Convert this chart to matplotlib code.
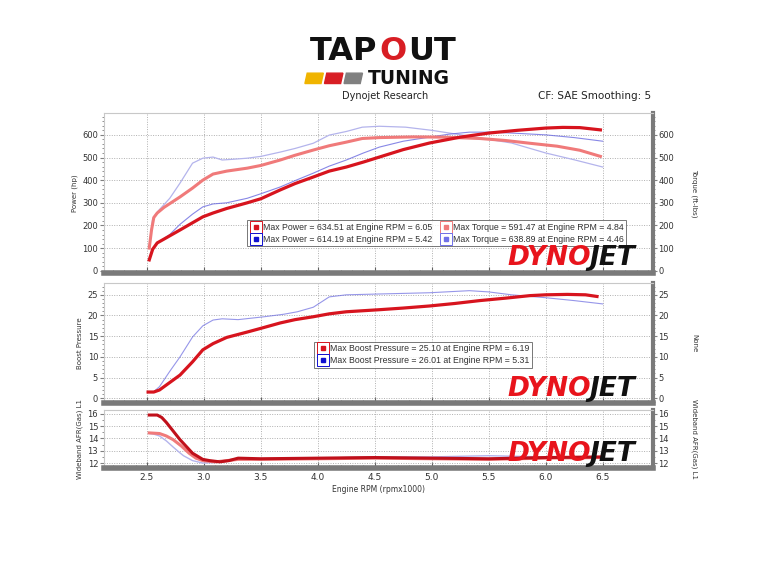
import matplotlib
matplotlib.use("Agg")
import matplotlib.pyplot as plt
from matplotlib.lines import Line2D
from matplotlib.patches import Polygon
from matplotlib.ticker import MultipleLocator

# данные (rpm x1000)
rpm_p1 = [2.52, 2.55, 2.59, 2.65, 2.79, 2.99, 3.08, 3.2, 3.38, 3.5, 3.67, 3.8, 3.96, 4.1, 4.25,
          4.4, 4.54, 4.75, 4.98, 5.25, 5.5, 5.75, 6.0, 6.15, 6.3, 6.48]
power_1 = [48, 95, 123, 140, 180, 238, 255, 275, 300, 318, 357, 385, 414, 440, 458,
           480, 502, 535, 564, 590, 608, 620, 630, 633, 632, 622]

rpm_t1 = [2.52, 2.54, 2.56, 2.59, 2.65, 2.79, 2.9, 2.99, 3.08, 3.2, 3.38, 3.5, 3.67, 3.8, 3.96,
          4.1, 4.25, 4.39, 4.54, 4.84, 5.1, 5.42, 5.65, 5.86, 6.1, 6.3, 6.48]
torque_1 = [100, 180, 235, 255, 280, 326, 365, 400, 427, 440, 453, 465, 489, 510, 533,
            552, 568, 584, 588, 591, 590, 584, 575, 563, 550, 532, 505]

rpm_p2 = [2.52, 2.56, 2.6, 2.7, 2.79, 2.9, 2.99, 3.08, 3.2, 3.38, 3.5, 3.67, 3.8, 3.96, 4.1,
          4.25, 4.4, 4.54, 4.75, 4.98, 5.15, 5.33, 5.5, 5.7, 6.0, 6.25, 6.5]
power_2 = [55, 105, 125, 160, 205, 250, 282, 295, 300, 320, 340, 370, 398, 431, 462,
           489, 520, 546, 572, 590, 603, 612, 612, 608, 600, 588, 572]

rpm_t2 = [2.52, 2.55, 2.6, 2.7, 2.79, 2.9, 2.99, 3.08, 3.16, 3.25, 3.38, 3.5, 3.67, 3.8, 3.96,
          4.1, 4.25, 4.39, 4.54, 4.77, 5.0, 5.27, 5.5, 5.7, 6.0, 6.25, 6.5]
torque_2 = [110, 230, 265, 320, 387, 475, 497, 502, 489, 492, 497, 505, 524, 540, 563,
            599, 615, 634, 638, 634, 620, 599, 580, 564, 520, 490, 458]

rpm_b1 = [2.51, 2.56, 2.61, 2.7, 2.79, 2.9, 2.99, 3.08, 3.2, 3.38, 3.5, 3.67, 3.8, 3.96, 4.1,
          4.25, 4.54, 4.75, 4.98, 5.2, 5.42, 5.65, 5.86, 6.0, 6.19, 6.35, 6.45]
boost_1 = [1.5, 1.5, 2.0, 3.8, 5.6, 8.8, 11.7, 13.2, 14.7, 16.0, 16.9, 18.2, 19.0, 19.7, 20.4,
           20.9, 21.4, 21.8, 22.3, 22.9, 23.6, 24.2, 24.8, 25.0, 25.1, 25.0, 24.6]

rpm_b2 = [2.51, 2.56, 2.61, 2.7, 2.79, 2.9, 2.99, 3.08, 3.16, 3.3, 3.53, 3.7, 3.82, 3.96, 4.1,
          4.25, 4.54, 4.98, 5.33, 5.5, 5.7, 6.0, 6.25, 6.5]
boost_2 = [1.5, 1.6, 2.8, 6.5, 10.0, 14.8, 17.5, 18.9, 19.2, 19.0, 19.7, 20.3, 20.9, 22.0, 24.5,
           25.0, 25.2, 25.5, 26.0, 25.7, 25.0, 24.3, 23.6, 22.8]

rpm_a1 = [2.52, 2.59, 2.63, 2.67, 2.73, 2.79, 2.85, 2.9, 2.99, 3.05, 3.14, 3.22, 3.3, 3.5, 4.0,
          4.5, 5.0, 5.5, 6.0, 6.5]
afr_1 = [15.9, 15.9, 15.7, 15.3, 14.6, 13.9, 13.3, 12.8, 12.3, 12.2, 12.1, 12.2, 12.4, 12.35, 12.4,
         12.45, 12.4, 12.35, 12.45, 12.5]

rpm_a2 = [2.52, 2.61, 2.67, 2.73, 2.8, 2.87, 2.93, 2.99, 3.1, 3.2, 3.3, 3.5, 4.0, 4.5, 5.0,
          5.5, 6.0, 6.5]
afr_2 = [14.45, 14.4, 14.2, 13.9, 13.4, 12.8, 12.4, 12.2, 12.1, 12.2, 12.3, 12.3, 12.35, 12.4, 12.35,
         12.3, 12.4, 12.45]

rpm_a3 = [2.52, 2.56, 2.61, 2.67, 2.73, 2.78, 2.82, 2.9, 2.99, 3.1, 3.3, 3.5, 4.0, 4.5, 5.0,
          5.5, 6.0, 6.5]
afr_3 = [14.4, 14.35, 14.2, 13.8, 13.3, 12.9, 12.6, 12.2, 12.0, 12.05, 12.3, 12.3, 12.4, 12.5, 12.5,
         12.6, 12.5, 12.4]

power_labels = ["Max Power = 634.51 at Engine RPM = 6.05",
                "Max Power = 614.19 at Engine RPM = 5.42",
                "Max Torque = 591.47 at Engine RPM = 4.84",
                "Max Torque = 638.89 at Engine RPM = 4.46"]
boost_labels = ["Max Boost Pressure = 25.10 at Engine RPM = 6.19",
                "Max Boost Pressure = 26.01 at Engine RPM = 5.31"]
x_ticks = [2.5, 3.0, 3.5, 4.0, 4.5, 5.0, 5.5, 6.0, 6.5]

RED = "#d7141e"
SALMON = "#f07a7a"
BLUE = "#6a6ae0"
LAV = "#b4b4ec"
GRID = "#b0b0b0"
BAR = "#7a7a7a"

plt.rcParams['font.family'] = ['DejaVu Sans']

fig = plt.figure(figsize=(7.68, 5.76), dpi=100)


def style_axis(ax, ylim, ymajor, yminor, left_label, right_label, show_x=False):
    ax.set_xlim(2.12, 6.94)
    ax.set_ylim(*ylim)
    ax.set_xticks(x_ticks)
    ax.xaxis.set_minor_locator(MultipleLocator(0.1))
    ax.yaxis.set_major_locator(MultipleLocator(ymajor))
    ax.yaxis.set_minor_locator(MultipleLocator(yminor))
    ax.grid(True, which='major', color=GRID, linestyle=(0, (1, 1.5)), linewidth=0.7)
    for s in ('left', 'top'):
        ax.spines[s].set_color('#c8c8c8')
        ax.spines[s].set_linewidth(0.8)
    ax.spines['bottom'].set_color(BAR)
    ax.spines['bottom'].set_linewidth(4)
    ax.spines['right'].set_color(BAR)
    ax.spines['right'].set_linewidth(3)
    ax.tick_params(axis='y', which='both', direction='out', colors='#808080',
                   labelcolor='#333333', labelsize=6, length=3, pad=1,
                   right=True, labelright=True)
    ax.tick_params(axis='y', which='minor', length=1.5)
    ax.tick_params(axis='x', which='both', direction='in', colors='#606060',
                   labelcolor='#333333', labelsize=6.5, length=4, labelbottom=show_x)
    ax.tick_params(axis='x', which='minor', length=2.5)
    ax.set_ylabel(left_label, fontsize=5, color='#333333', labelpad=3)
    ax.text(1.075, 0.5, right_label, transform=ax.transAxes, rotation=-90,
            fontsize=5, color='#333333', ha='center', va='center')
    # логотип dynojet
    ax.text(0.888, 0.012, "DYNO", transform=ax.transAxes, ha='right', va='bottom',
            color='#e8141c', fontsize=19, fontweight='heavy', fontstyle='italic', zorder=10)
    ax.text(0.884, 0.012, "JET", transform=ax.transAxes, ha='left', va='bottom',
            color='#111111', fontsize=19, fontweight='heavy', fontstyle='italic', zorder=10)


def legend_handle(color):
    outer = Line2D([], [], linestyle='none', marker='s', markersize=8,
                   markerfacecolor='white', markeredgecolor=color, markeredgewidth=0.7)
    inner = Line2D([], [], linestyle='none', marker='s', markersize=3.5,
                   markerfacecolor=color, markeredgecolor=color)
    return (outer, inner)


def make_legend(ax, handles, labels, anchor, ncol):
    leg = ax.legend(handles, labels, ncol=ncol, loc='lower left', bbox_to_anchor=anchor,
                    prop={'family': 'Liberation Sans', 'size': 6.3},
                    frameon=True, fancybox=False, edgecolor='#555555', borderpad=0.3,
                    labelspacing=0.3, handletextpad=0.1, columnspacing=0.9,
                    handlelength=1.4)
    leg.get_frame().set_linewidth(0.7)
    for t in leg.get_texts():
        t.set_color('#333333')
    return leg


# ---- верхняя панель: мощность / момент ----
ax1 = fig.add_axes([0.135, 0.526, 0.715, 0.278])
ax1.plot(rpm_t2, torque_2, color=LAV, lw=0.9)
ax1.plot(rpm_p2, power_2, color=BLUE, lw=0.8, alpha=0.8)
ax1.plot(rpm_t1, torque_1, color=SALMON, lw=2.2)
ax1.plot(rpm_p1, power_1, color=RED, lw=2.3)
style_axis(ax1, (-10, 697), 100, 20, "Power (hp)", "Torque (ft-lbs)")
make_legend(ax1, [legend_handle(RED), legend_handle('#1010d0'),
                  legend_handle(SALMON), legend_handle('#7070e8')],
            power_labels, (0.253, 0.14), 2)

# ---- средняя панель: давление наддува ----
ax2 = fig.add_axes([0.135, 0.300, 0.715, 0.209])
ax2.plot(rpm_b2, boost_2, color=BLUE, lw=0.8, alpha=0.7)
ax2.plot(rpm_b1, boost_1, color=RED, lw=2.3)
style_axis(ax2, (-1.2, 27.9), 5, 1, "Boost Pressure", "None")
make_legend(ax2, [legend_handle(RED), legend_handle('#1010d0')], boost_labels,
            (0.375, 0.26), 1)

# ---- нижняя панель: AFR ----
ax3 = fig.add_axes([0.135, 0.1875, 0.715, 0.1005])
ax3.plot(rpm_a3, afr_3, color=LAV, lw=1.0)
ax3.plot(rpm_a2, afr_2, color=SALMON, lw=2.2)
ax3.plot(rpm_a1, afr_1, color='#c0101a', lw=2.2)
style_axis(ax3, (11.6, 16.3), 1, 0.5, "Wideband AFR(Gas) L1", "Wideband AFR(Gas) L1", show_x=True)
ax3.set_xlabel("Engine RPM (rpmx1000)", fontsize=5.5, color='#333333', labelpad=2)

# ---- шапка ----
fig.text(0.492, 0.91, "TAP", fontsize=23, fontweight='heavy', ha='right', va='center',
         color='#111111')
fig.text(0.512, 0.91, "O", fontsize=23, fontweight='heavy', ha='center', va='center',
         color='#d81e24')
fig.text(0.531, 0.91, "UT", fontsize=23, fontweight='heavy', ha='left', va='center',
         color='#111111')
fig.text(0.532, 0.863, "TUNING", fontsize=13.5, fontweight='heavy', ha='center',
         va='center', color='#111111')
for i, c in enumerate(['#f0b400', '#d81e24', '#808080']):
    x0 = 0.397 + i * 0.0255
    fig.patches.append(Polygon([[x0, 0.855], [x0 + 0.021, 0.855], [x0 + 0.024, 0.873],
                                [x0 + 0.003, 0.873]], closed=True, color=c,
                               transform=fig.transFigure, figure=fig))
fig.text(0.502, 0.833, "Dynojet Research", fontsize=7, ha='center', va='center',
         color='#222222')
fig.text(0.848, 0.833, "CF: SAE Smoothing: 5", fontsize=7.5, ha='right', va='center',
         color='#222222')

fig.savefig("out.png", dpi=100, facecolor='white')
